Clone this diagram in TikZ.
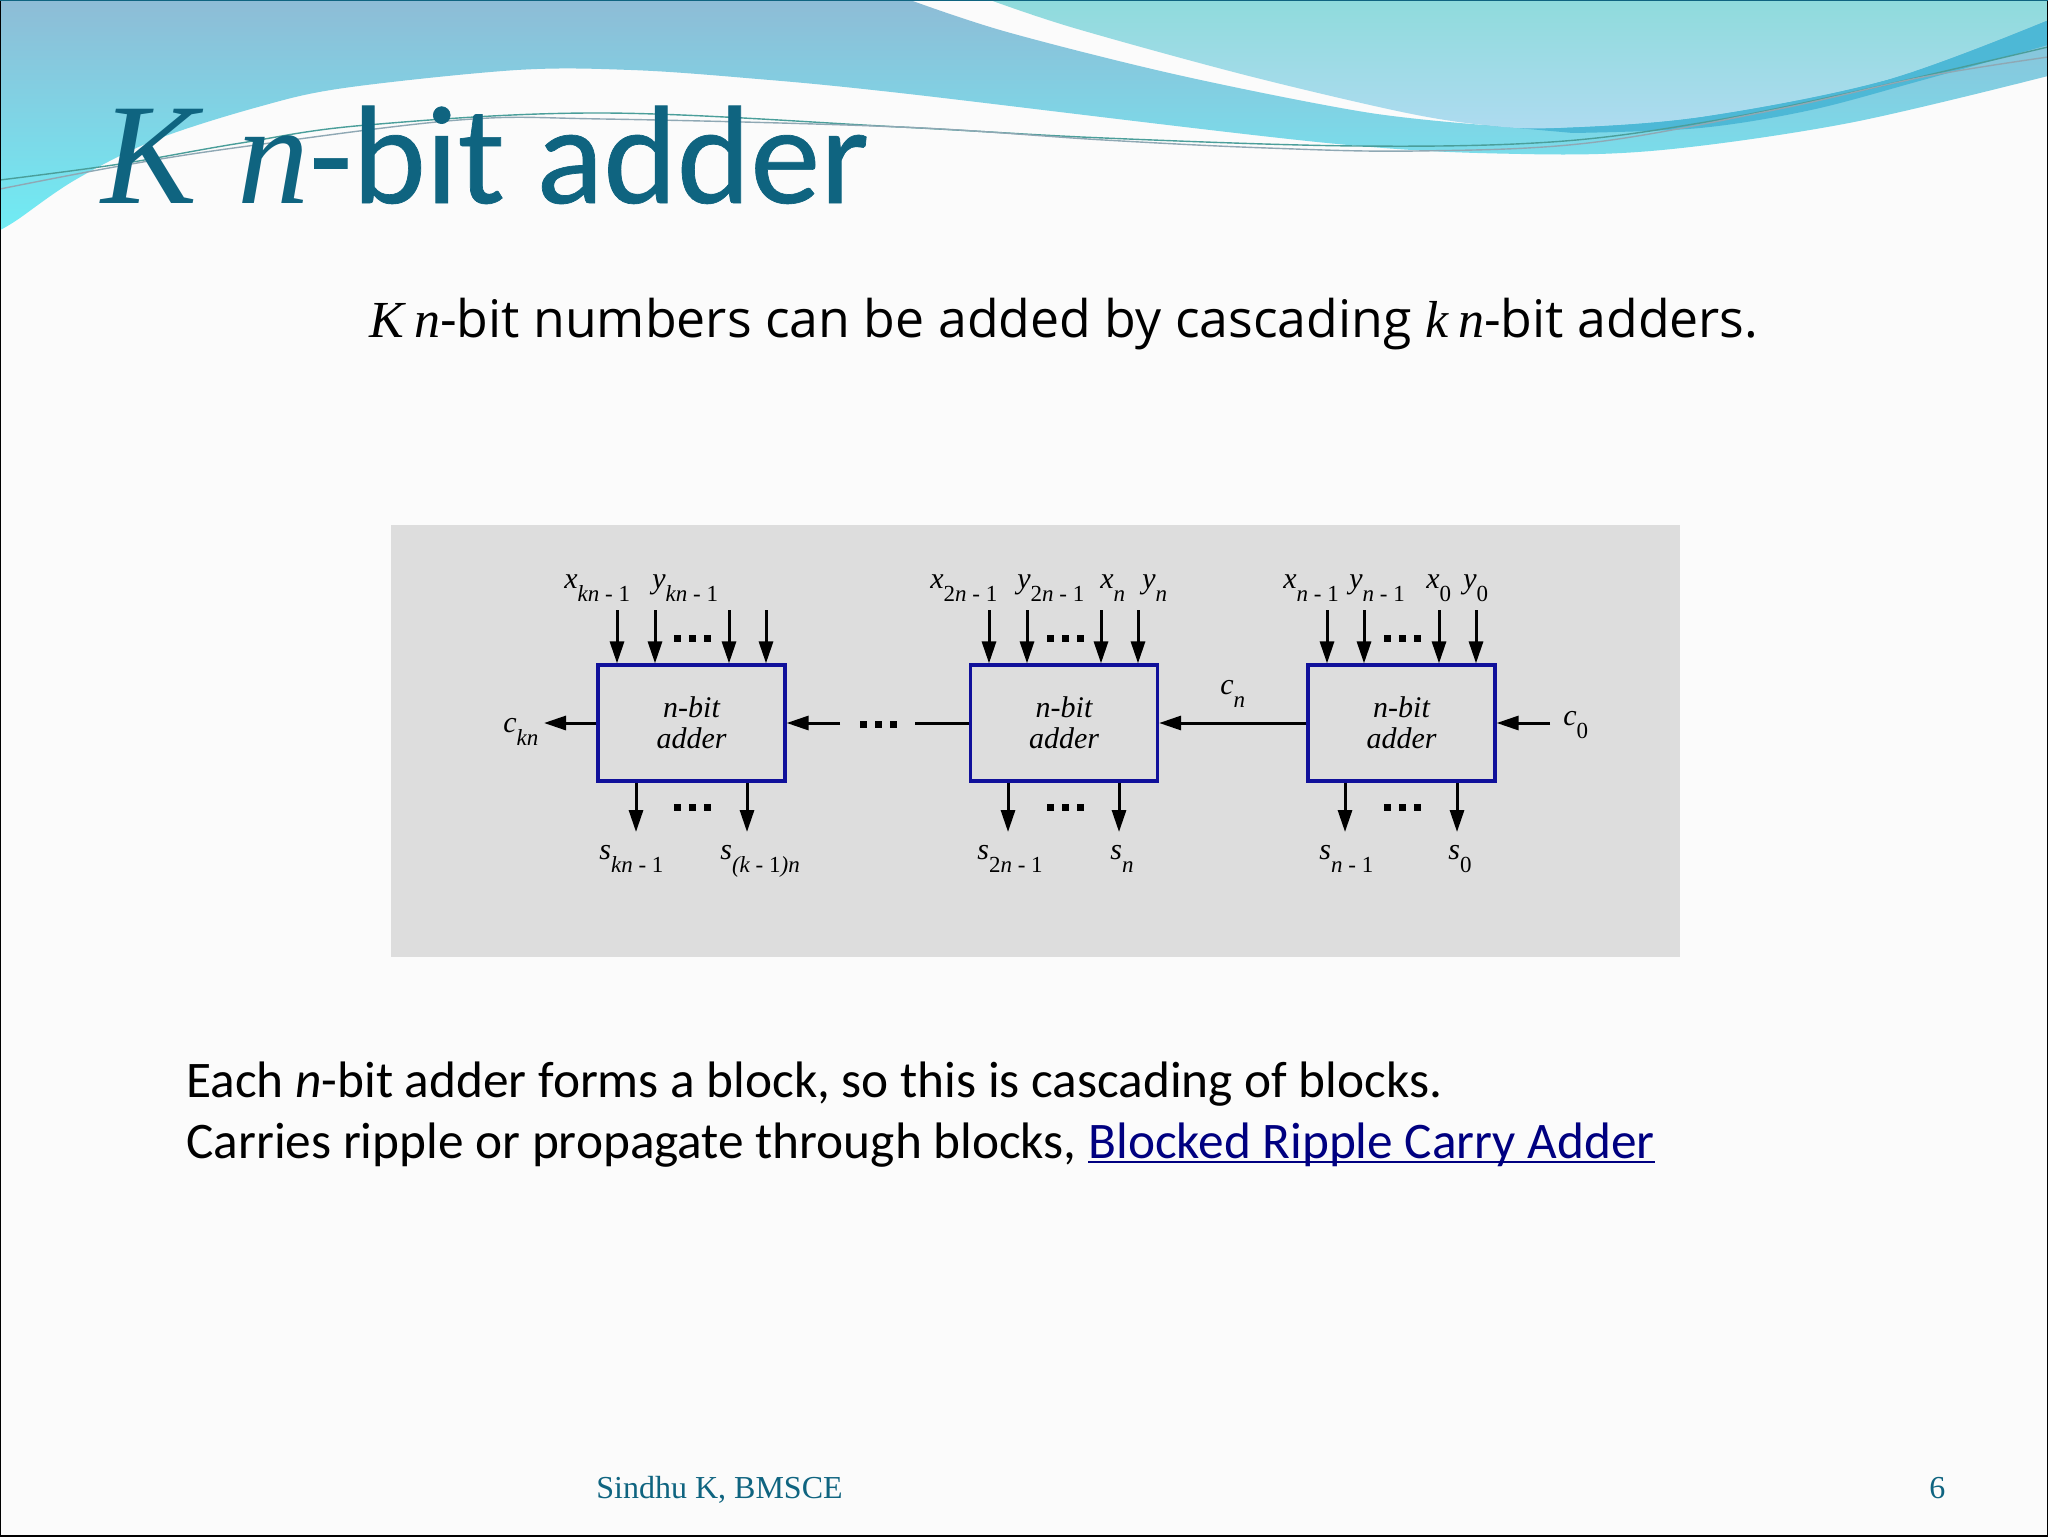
\documentclass[tikz,border=0pt]{standalone}
\usepackage{fontspec}
\usetikzlibrary{arrows.meta}
\setmainfont{Carlito}
\newfontfamily\labelfont{Liberation Serif}
\newfontfamily\leadfont{Open Sans}
\newfontfamily\titlefont[FakeBold=.5]{Carlito}
\definecolor{slidebg}{HTML}{FBFBFB}
\definecolor{titleteal}{HTML}{0F6480}
\definecolor{panelgray}{HTML}{DDDDDD}
\definecolor{boxblue}{HTML}{10109A}
\definecolor{linkblue}{HTML}{000080}
\definecolor{wavetop}{HTML}{8EBCD6}
\definecolor{wavelow}{HTML}{70ECF4}
\definecolor{foamtop}{HTML}{8FDBDC}
\definecolor{foamlow}{HTML}{AEDBF0}
\definecolor{stripblue}{HTML}{4DB8D6}
\definecolor{swirlgreen}{HTML}{4A9E9A}
\definecolor{swirlgray}{HTML}{8FA8B4}
\newcommand{\sig}[2]{{\labelfont\itshape\fontsize{15}{15}\selectfont #1\raisebox{-6.5pt}{\fontsize{11.5}{11.5}\selectfont #2}}}
\newcommand{\rom}[1]{{\upshape #1}}
\newcommand{\dotrow}{\rule{3.5pt}{3.5pt}\hspace{4pt}\rule{3.5pt}{3.5pt}\hspace{4pt}\rule{3.5pt}{3.5pt}}
\newsavebox{\linkbox}
\newcommand{\linkline}[1]{\sbox{\linkbox}{#1}\usebox{\linkbox}\llap{\rule[-2.6pt]{\wd\linkbox}{1.1pt}}}
\tikzset{
  wire/.style={line width=1.5pt,-{Triangle[length=11pt,width=7pt]}},
  plainwire/.style={line width=1.5pt},
  adderbox/.style={draw=boxblue,line width=1.6pt,minimum width=93.5pt,minimum height=58pt,
    align=center,inner sep=0pt,font=\labelfont\itshape\fontsize{15}{15.5}\selectfont},
  signal/.style={anchor=base west,inner sep=0pt},
  dots/.style={inner sep=0pt},
  swirl/.style={line width=.7pt,smooth,tension=.6}
}
\begin{document}
\begin{tikzpicture}
  [x=.5pt,y=-.5pt]
  \useasboundingbox (0,0) rectangle (2048,1536);
  \fill[slidebg] (0,0) rectangle (2048,1536);

  \shade[top color=wavetop,bottom color=wavelow]
    plot[smooth,tension=.55] coordinates {(910,0) (1007,32) (1178,75) (1364,112) (1484,125)}
    -- (1554,128) -- (1700,117) -- (1886,80) -- (2048,20)
    -- plot[smooth,tension=.55] coordinates {(2048,76) (1849,123) (1662,150) (1521,154) (1327,143) (900,93) (746,78) (631,70) (517,70) (344,88) (258,107) (155,140) (75,180) (17,220) (0,230)}
    -- (0,0) -- cycle;
  \fill[stripblue]
    plot[smooth,tension=.55] coordinates {(1484,125) (1554,128) (1700,117) (1886,80) (2048,20)}
    -- plot[smooth,tension=.55] coordinates {(2048,45) (1923,80) (1811,110) (1700,128) (1573,133)} -- cycle;
  \shade[top color=foamtop,bottom color=foamlow]
    plot[smooth,tension=.55] coordinates {(990,0) (1074,28) (1245,75) (1402,112) (1484,125) (1554,128) (1700,117) (1886,80) (2048,20)}
    -- (2048,0) -- cycle;
  \draw[swirl,color=swirlgreen] plot coordinates {(0,180) (120,164) (241,143) (367,125) (603,113) (900,127) (1104,138) (1357,146) (1551,142) (1700,123) (1849,93) (2048,47)};
  \draw[swirl,color=swirlgray] plot coordinates {(0,189) (120,166) (241,147) (459,120) (603,119) (900,127) (1104,140) (1267,148) (1416,151) (1588,143) (1774,110) (1923,77) (2048,57)};

  \draw[black,line width=1pt] (0,0) rectangle (2048,1536);
  \draw[titleteal,line width=1.5pt] (0,0) -- (2048,0);

  \node[anchor=base west,inner sep=0pt,text=titleteal] (title) at (101,203)
    {{\labelfont\itshape\fontsize{72}{72}\selectfont K\hspace{20pt}n}{\titlefont\fontsize{70}{70}\selectfont -bit adder}};
  \node[anchor=base west,inner sep=0pt,font=\leadfont\fontsize{25.9}{26}\selectfont] (lead) at (369,337)
    {{\labelfont\itshape\fontsize{26}{26}\selectfont K\kern5pt n}-bit numbers can be added by cascading {\labelfont\itshape\fontsize{26}{26}\selectfont k\kern5pt n}-bit adders.};

  \fill[panelgray] (391,525) rectangle (1680,957);

  \node[adderbox] (add2) at (691.5,723) {n-bit\\adder};
  \node[adderbox] (add1) at (1064,723) {n-bit\\adder};
  \node[adderbox] (add0) at (1401.5,723) {n-bit\\adder};

  \foreach \px/\blk in {617/add2,655/add2,729/add2,766/add2,989/add1,1027/add1,1101/add1,1138/add1,1327/add0,1364/add0,1439/add0,1476/add0}
  {
    \coordinate (in\px) at (\px,610);
    \draw[wire] (in\px) -- (in\px |- \blk.north);
  }
  \foreach \px/\blk in {636/add2,747/add2,1008/add1,1119/add1,1345/add0,1457/add0}
  {
    \coordinate (out\px) at (\px,832);
    \draw[wire] (out\px |- \blk.south) -- (out\px);
  }

  \foreach \px/\py/\dotname in {692/638/dta,1065/638/dtb,1402/638/dtc,692/807/dtd,1065/807/dte,1402/807/dtf,878/724/dtg}
    \node[dots] (\dotname) at (\px,\py) {\dotrow};

  \coordinate (ckn) at (544,723);
  \coordinate (ripa) at (840,723);
  \coordinate (ripb) at (915,723);
  \coordinate (czero) at (1550,723);
  \draw[wire] (add2.west) -- (ckn);
  \draw[wire] (ripa) -- (add2.east);
  \draw[plainwire] (ripb) -- (add1.west);
  \draw[wire] (add0.west) -- (add1.east);
  \draw[wire] (czero) -- (add0.east);

  \foreach \px/\py/\base/\tag/\txt in {
    564/588/x/la/{kn - \rom{1}},652/588/y/lb/{kn - \rom{1}},
    930/588/x/lc/{\rom{2}n - \rom{1}},1017/588/y/ld/{\rom{2}n - \rom{1}},1100/588/x/le/n,1142/588/y/lf/n,
    1283/588/x/lg/{n - \rom{1}},1349/588/y/lh/{n - \rom{1}},1426/588/x/li/\rom{0},1463/588/y/lj/\rom{0},
    599/859/s/lk/{kn - \rom{1}},720/859/s/ll/{(k - \rom{1})n},
    977/859/s/lm/{\rom{2}n - \rom{1}},1110/859/s/ln/n,1319/859/s/lo/{n - \rom{1}},1448/859/s/lp/\rom{0},
    503/732/c/lq/kn,1220/694/c/lr/n,1563/725/c/ls/\rom{0}}
    \node[signal] (\tag) at (\px,\py) {\sig{\base}{\txt}};

  \node[anchor=base west,inner sep=0pt,align=left,font=\fontsize{25.65}{30.5}\selectfont] (body) at (186,1158)
    {Each \textit{n}-bit adder forms a block, so this is cascading of blocks.\\
     Carries ripple or propagate through blocks, \textcolor{linkblue}{\linkline{Blocked Ripple Carry Adder}}};

  \node[anchor=base west,inner sep=0pt,text=titleteal,font=\labelfont\fontsize{16}{16}\selectfont] (foot) at (596,1498) {Sindhu K, BMSCE};
  \node[anchor=base west,inner sep=0pt,text=titleteal,font=\labelfont\fontsize{16}{16}\selectfont] (page) at (1929,1498) {6};
\end{tikzpicture}
\end{document}
